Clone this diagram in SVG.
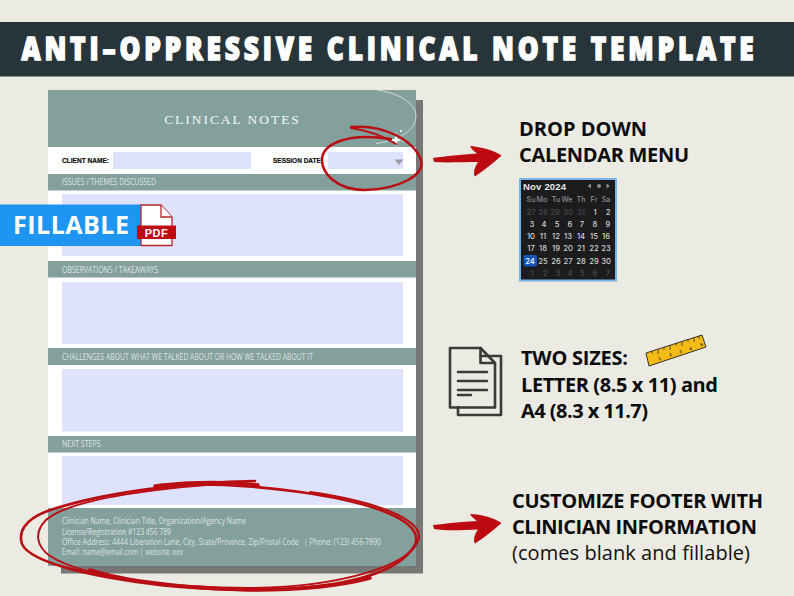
<svg xmlns="http://www.w3.org/2000/svg" width="794" height="596" viewBox="0 0 794 596">
<style>
.bar{fill:#84a09d}
.field{fill:#dfe2fd}
.sec{font:8.400px "Open Sans",sans-serif;fill:#e6eeec;fill-opacity:.9}
.foot{font:8.200px "Open Sans",sans-serif;fill:#e6eeec;fill-opacity:.9}
.lbl{font:bold 7px "Liberation Sans",sans-serif;fill:#111;stroke:#111;stroke-width:.2}
.h{font:bold 20px "Open Sans",sans-serif;fill:#0c0c0c}
.red{fill:none;stroke:#b90e14;stroke-linecap:round}
.arrow{fill:#bd0a12}
.cal{font:500 7.600px "Inter",sans-serif;fill:#d4d4d4;text-anchor:middle}
.dim{fill:#4a4a4c}
.hd{fill:#8d8d8f;font-size:7.200px}
.doc{fill:none;stroke:#3a3a38;stroke-width:2.600;stroke-linejoin:round;stroke-linecap:round}
.tick{font:bold 4.500px "Liberation Sans",sans-serif;fill:#37332a;text-anchor:middle}
</style>
<rect width="794" height="596" fill="#ebeae3"/>

<g id="banner">
<rect x="0" y="22" width="794" height="54.500" fill="#27353b"/>
<text transform="translate(21.500 60) scale(.82 1)" font-family="'Open Sans',sans-serif" font-weight="800" font-size="32" fill="#fff" stroke="#fff" stroke-width="1.500" textLength="893" lengthAdjust="spacing">ANTI–OPPRESSIVE CLINICAL NOTE TEMPLATE</text>
</g>

<g id="page">
<rect x="61" y="100" width="362" height="473.500" fill="#777775"/>
<rect x="48" y="90" width="368" height="476" fill="#fff"/>
<rect class="bar" x="48" y="90" width="368" height="57"/>
<path d="M377 90C404 94 416 106 416 116C416 131 397 141 376 143.500" fill="none" stroke="#dfe9e7" stroke-width=".8"/>
<path d="M396 131.500L397.200 138.500L402 140L397.200 141.500L396 147L394.800 141.500L390 140L394.800 138.500Z" fill="#f4f8f7"/>
<circle cx="401" cy="131" r="1.100" fill="#fff"/>
<circle cx="403" cy="141.500" r=".7" fill="#fff"/>
<text x="232.500" y="124" text-anchor="middle" font-family="'Liberation Serif',serif" font-size="13.500" letter-spacing="1.950" fill="#f3f6f5">CLINICAL NOTES</text>
</g>

<g id="client-row">
<text class="lbl" x="62" y="163" textLength="47" lengthAdjust="spacingAndGlyphs">CLIENT NAME:</text>
<text class="lbl" x="273" y="163" textLength="50" lengthAdjust="spacingAndGlyphs">SESSION DATE:</text>
<rect class="field" x="113" y="152" width="138" height="17"/>
<rect class="field" x="328" y="152" width="75" height="17"/>
<path d="M394.500 159.500H403.500L399 165Z" fill="#9a9aa6"/>
</g>

<g id="section-issues">
<rect class="bar" x="48" y="174" width="368" height="16.500"/>
<text class="sec" x="62" y="185" textLength="94" lengthAdjust="spacingAndGlyphs">ISSUES / THEMES DISCUSSED</text>
<rect class="field" x="62" y="194" width="341" height="62"/>
</g>

<g id="section-observations">
<rect class="bar" x="48" y="261" width="368" height="16.500"/>
<text class="sec" x="62" y="272.500" textLength="96" lengthAdjust="spacingAndGlyphs">OBSERVATIONS / TAKEAWAYS</text>
<rect class="field" x="62" y="282" width="341" height="62"/>
</g>

<g id="section-challenges">
<rect class="bar" x="48" y="348" width="368" height="17"/>
<text class="sec" x="62" y="359.500" textLength="251" lengthAdjust="spacingAndGlyphs">CHALLENGES ABOUT WHAT WE TALKED ABOUT OR HOW WE TALKED ABOUT IT</text>
<rect class="field" x="62" y="369" width="341" height="62.500"/>
</g>

<g id="section-next">
<rect class="bar" x="48" y="436" width="368" height="16.500"/>
<text class="sec" x="62" y="447" textLength="38.500" lengthAdjust="spacingAndGlyphs">NEXT STEPS</text>
<rect class="field" x="62" y="456" width="341" height="49"/>
</g>

<g id="footer">
<rect class="bar" x="48" y="508" width="368" height="58"/>
<text class="foot" x="62" y="524" textLength="184" lengthAdjust="spacingAndGlyphs">Clinician Name, Clinician Title, Organization/Agency Name</text>
<text class="foot" x="62" y="534.500" textLength="109" lengthAdjust="spacingAndGlyphs">License/Registration #123 456 789</text>
<text class="foot" x="62" y="545" textLength="319" lengthAdjust="spacingAndGlyphs" xml:space="preserve">Office Address: 4444 Liberation Lane, City, State/Province, Zip/Postal Code   | Phone: (123) 456-7890</text>
<text class="foot" x="62" y="555" textLength="121" lengthAdjust="spacingAndGlyphs">Email: name@email.com | website: xxx</text>
</g>

<g id="fillable-badge">
<rect x="0" y="204.500" width="141" height="41.500" fill="#1e96f1"/>
<text x="13" y="234" font-family="'Open Sans',sans-serif" font-weight="700" font-size="25" fill="#fff" textLength="116">FILLABLE</text>
<path d="M141 205H161L172 217V245.500H141Z" fill="#fff" stroke="#b5262c" stroke-width="1.300"/>
<path d="M161 205V217H172" fill="#fff" stroke="#b5262c" stroke-width="1.300"/>
<rect x="137" y="225.500" width="39" height="13.500" fill="#c00b12"/>
<text x="156.500" y="236.500" text-anchor="middle" font-family="'Liberation Sans',sans-serif" font-weight="bold" font-size="11" fill="#fff" letter-spacing=".5">PDF</text>
</g>

<g id="session-circle">
<path class="red" stroke-width="2.500" d="M351 127C385 124 414 141 421 160C425 175 400 189 365 190C335 190 322 172 322 160C322 145 345 132 391 139"/>
<path class="red" stroke-width="2" d="M351 128C365 130 380 134 396 144"/>
</g>

<g id="footer-circle">
<path class="red" stroke-width="2.600" d="M255 481C190 482 100 492 45 512C25 520 18 532 22 544C30 562 90 578 180 587C280 595 390 588 415 545C423 525 390 505 300 492C250 485 200 483 160 485"/>
<path class="red" stroke-width="2" d="M240 483C170 486 70 498 46 520C34 532 36 546 50 556C85 578 170 588 250 588C340 587 412 566 419 538C421 520 380 502 310 492"/>
<path class="red" stroke-width="3.500" d="M155 486C190 482 230 482 258 485M90 570C130 583 190 588 250 590C300 590 340 586 370 578"/>
</g>

<g id="connectors">
<path class="arrow" d="M433 158C447 156 460 155 477 153.500C474 151 471 149 470 146C481 147 493 150 501.500 155.500C495 162 484 170 475 176.500C473 174 474 168 478 162C462 162 447 163 434 162Z"/>
<path class="arrow" d="M433 525C447 523.500 460 522 477 521C474 519 471 516 470 514C481 514.500 493 517 501.500 523C495 529 485 537 475 543.500C473 541 474 535 478 529.500C462 530 447 531 434 529Z"/>
</g>

<g id="calendar-note">
<text class="h" x="519" y="136">DROP DOWN</text>
<text class="h" x="519" y="162" textLength="170">CALENDAR MENU</text>
</g>

<g id="calendar">
<rect x="520" y="179" width="96" height="101.500" fill="#1c1c1e" stroke="#76b4e6" stroke-width="2"/>
<text x="523" y="190" font-family="'Liberation Sans',sans-serif" font-weight="bold" font-size="9.500" fill="#e8e8e8" letter-spacing=".2">Nov 2024</text>
<path d="M591 183.500L587.500 186L591 188.500ZM606.500 183.500L610 186L606.500 188.500Z" fill="#8d8d8f"/>
<circle cx="599" cy="186" r="2" fill="#8d8d8f"/>
<g class="cal">
<text class="hd" x="531" y="201.500">Su</text><text class="hd" x="542" y="201.500">Mo</text><text class="hd" x="556" y="201.500">Tu</text><text class="hd" x="567" y="201.500">We</text><text class="hd" x="581" y="201.500">Th</text><text class="hd" x="594" y="201.500">Fr</text><text class="hd" x="606" y="201.500">Sa</text>
<text class="dim" x="531" y="214.500">27</text><text class="dim" x="543" y="214.500">28</text><text class="dim" x="555" y="214.500">29</text><text class="dim" x="568" y="214.500">30</text><text class="dim" x="581" y="214.500">31</text><text x="595" y="214.500">1</text><text x="608" y="214.500">2</text>
<text x="532" y="226.500">3</text><text x="544" y="226.500">4</text><text x="557" y="226.500">5</text><text x="570" y="226.500">6</text><text x="582" y="226.500">7</text><text x="595" y="226.500">8</text><text x="608" y="226.500">9</text>
<text x="531" y="239">10</text><text x="543" y="239">11</text><text x="556" y="239">12</text><text x="568" y="239">13</text><text x="581" y="239">14</text><text x="594" y="239">15</text><text x="606" y="239">16</text>
<text x="531" y="251">17</text><text x="543" y="251">18</text><text x="556" y="251">19</text><text x="568" y="251">20</text><text x="581" y="251">21</text><text x="594" y="251">22</text><text x="606" y="251">23</text>
<rect x="523.500" y="255" width="13.500" height="11.500" rx="2" fill="#1557c0"/>
<text x="530" y="263.500" fill="#fff">24</text><text x="543" y="263.500">25</text><text x="556" y="263.500">26</text><text x="568" y="263.500">27</text><text x="581" y="263.500">28</text><text x="594" y="263.500">29</text><text x="606" y="263.500">30</text>
<text class="dim" x="532" y="276">1</text><text class="dim" x="545" y="276">2</text><text class="dim" x="558" y="276">3</text><text class="dim" x="570" y="276">4</text><text class="dim" x="582" y="276">5</text><text class="dim" x="595" y="276">6</text><text class="dim" x="608" y="276">7</text>
</g>
</g>

<g id="sizes-note">
<path class="doc" d="M480.500 356H501V415H458V407"/>
<path class="doc" d="M450 348H480.500L495 363V407.500H450Z"/>
<path class="doc" d="M480.500 348V363H495"/>
<path class="doc" d="M458 372H487M458 381H487M458 390H487M458 395H471" stroke-width="1.800"/>
<text class="h" x="521" y="365" textLength="107">TWO SIZES:</text>
<text class="h" x="521" y="392" textLength="197">LETTER (8.5 x 11) and</text>
<text class="h" x="521" y="418" textLength="127">A4 (8.3 x 11.7)</text>
</g>

<g id="ruler">
<path d="M646 353L702 335L706 347L649 366Z" fill="#f4bb16" stroke="#37332a" stroke-width="1"/>
<path d="M652 351v3M658 349v5M664 347v3M670 345v5M676 343v3M682 341v5M688 339v3M694 337v5M699 336v3" stroke="#37332a" stroke-width=".8" fill="none"/>
<g class="tick">
<text x="660" y="360" transform="rotate(-18 660 360)">1</text><text x="671" y="356" transform="rotate(-18 671 356)">2</text><text x="681" y="353" transform="rotate(-18 681 353)">3</text><text x="691" y="350" transform="rotate(-18 691 350)">4</text><text x="702" y="346" transform="rotate(-18 702 346)">5</text>
</g>
</g>

<g id="footer-note">
<text class="h" x="512" y="508" textLength="251">CUSTOMIZE FOOTER WITH</text>
<text class="h" x="512" y="533.500" textLength="245">CLINICIAN INFORMATION</text>
<text x="512" y="560" font-family="'Open Sans',sans-serif" font-size="20" fill="#111" textLength="238">(comes blank and fillable)</text>
</g>
</svg>
